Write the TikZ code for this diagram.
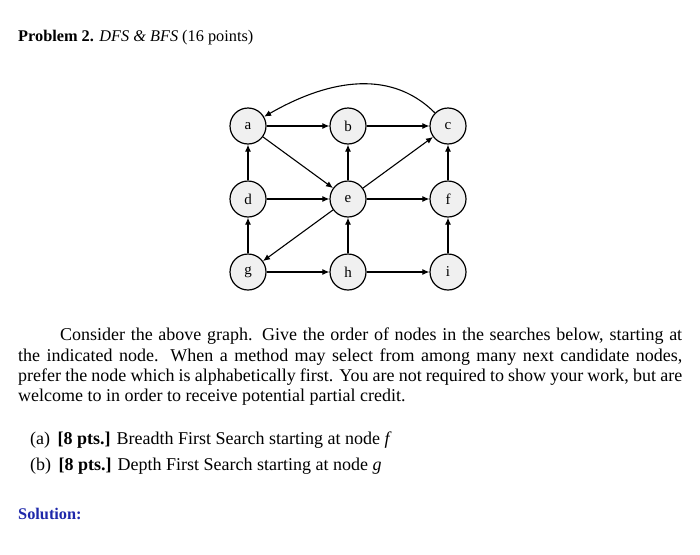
\documentclass[tikz,border=0pt]{standalone}
\usepackage{fontspec}
\setmainfont{Liberation Serif}
\usetikzlibrary{arrows.meta}
\definecolor{solblue}{RGB}{30,40,170}
\begin{document}
\begin{tikzpicture}[x=1pt,y=-1pt,
  vert/.style={circle,draw,line width=1.2pt,fill=gray!12,minimum size=36pt,inner sep=0pt,font=\fontsize{15}{15}\selectfont},
  edge/.style={line width=1.1pt,-{Latex[length=7pt,width=6pt]}},
  txt/.style={anchor=north west,inner sep=0pt,align=left,font=\fontsize{18}{20.3}\selectfont}]
\useasboundingbox (0,0) rectangle (700,554);
\node[txt,anchor=west,font=\fontsize{16.3}{20}\selectfont] (title) at (18,38) {\textbf{Problem 2.} \textit{DFS \& BFS} (16 points)};
\node[vert] (a) at (248,126) {a};
\node[vert] (b) at (348,126) {b};
\node[vert] (c) at (448,126) {c};
\node[vert] (d) at (248,199) {d};
\node[vert] (e) at (348,199) {e};
\node[vert] (f) at (448,199) {f};
\node[vert] (g) at (248,272) {g};
\node[vert] (h) at (348,272) {h};
\node[vert] (i) at (448,272) {i};
\draw[edge] (a) -- (b);
\draw[edge] (b) -- (c);
\draw[edge] (a) -- (e);
\draw[edge] (d) -- (a);
\draw[edge] (g) -- (d);
\draw[edge] (d) -- (e);
\draw[edge] (e) -- (b);
\draw[edge] (e) -- (c);
\draw[edge] (e) -- (f);
\draw[edge] (e) -- (g);
\draw[edge] (h) -- (e);
\draw[edge] (f) -- (c);
\draw[edge] (i) -- (f);
\draw[edge] (g) -- (h);
\draw[edge] (h) -- (i);
\draw[edge] (c) to[out=135,in=30,looseness=1.0] (a);
\node[txt,text width=664pt,text justified] (para) at (18,328) {\hspace*{42pt}Consider the above graph. Give the order of nodes in the searches below, starting at the indicated node. When a method may select from among many next candidate nodes, prefer the node which is alphabetically first. You are not required to show your work, but are welcome to in order to receive potential partial credit.};
\node[txt,anchor=west] (qa) at (30,440) {(a)\, \textbf{[8 pts.]} Breadth First Search starting at node \textit{f}};
\node[txt,anchor=west] (qb) at (30,466) {(b)\, \textbf{[8 pts.]} Depth First Search starting at node \textit{g}};
\node[txt,anchor=west,text=solblue,font=\fontsize{16.3}{20}\selectfont] (sol) at (18,514) {\textbf{Solution:}};
\end{tikzpicture}
\end{document}
